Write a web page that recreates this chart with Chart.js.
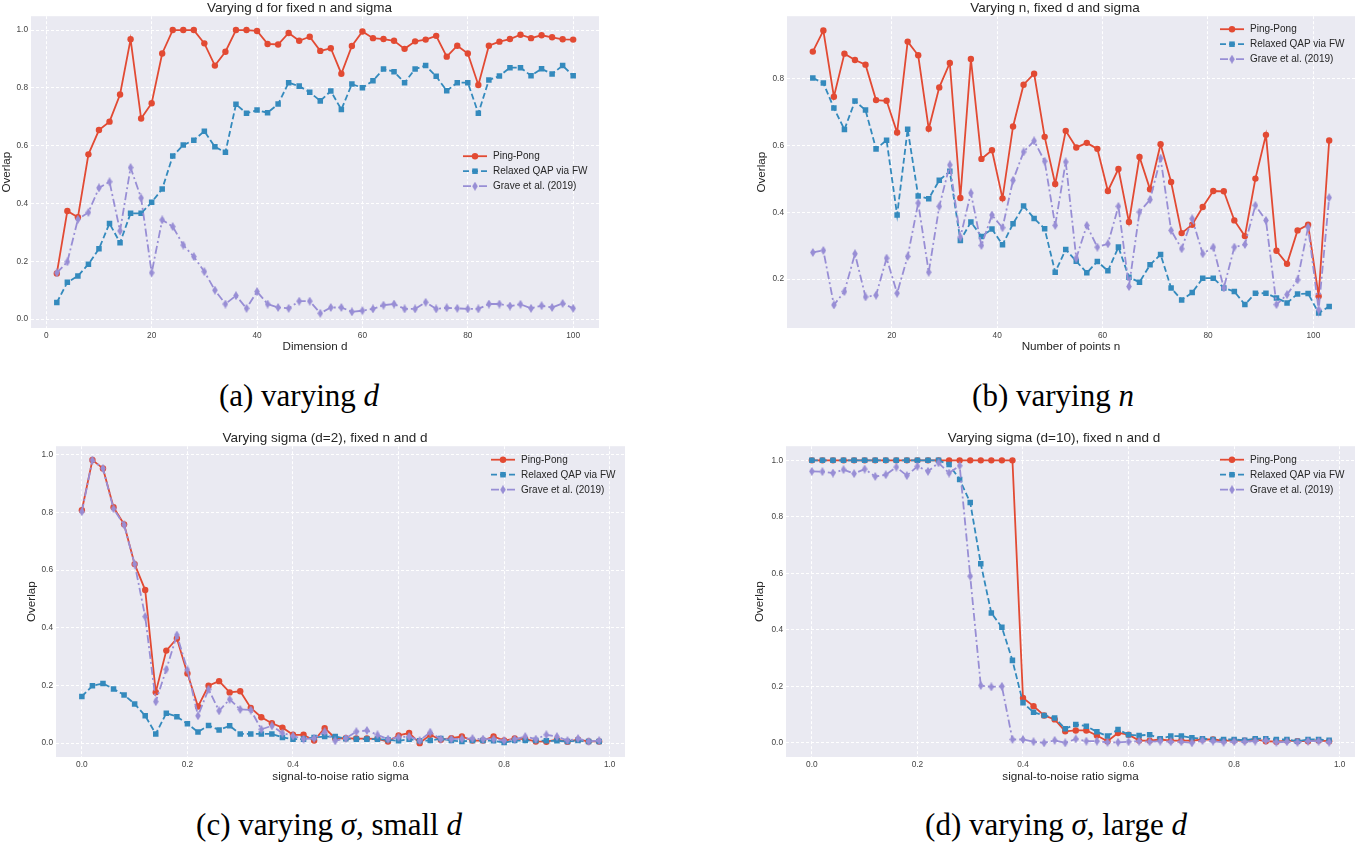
<!DOCTYPE html>
<html>
<head>
<meta charset="utf-8">
<script src="https://cdn.jsdelivr.net/npm/chart.js@4.4.1/dist/chart.umd.min.js"></script>
<style>
  html, body { margin: 0; padding: 0; background: #fff; overflow: hidden; width: 1359px; height: 843px; }
  canvas { position: absolute; }
  .cap { position: absolute; font-family: "Liberation Serif", "Times New Roman", serif; font-size: 31px;
         line-height: 1; color: #000; white-space: nowrap; transform: translate(-50%, -50%); }
</style>
</head>
<body>
<canvas id="panelA" width="630" height="354" style="left:0px;top:0px"></canvas>
<canvas id="panelB" width="632" height="354" style="left:755px;top:0px"></canvas>
<canvas id="panelC" width="631" height="354" style="left:25px;top:430px"></canvas>
<canvas id="panelD" width="635" height="354" style="left:753px;top:430px"></canvas>

<div class="cap" style="left:299px;top:395px">(a) varying <i>d</i></div>
<div class="cap" style="left:1053px;top:395px">(b) varying <i>n</i></div>
<div class="cap" style="left:329px;top:824px">(c) varying <i>σ</i>, small <i>d</i></div>
<div class="cap" style="left:1056px;top:824px">(d) varying <i>σ</i>, large <i>d</i></div>

<script>
// ---- data ----
const methodNames = ['Ping-Pong', 'Relaxed QAP via FW', 'Grave et al. (2019)'];

// (a) varying dimension d
const dimD = [2, 4, 6, 8, 10, 12, 14, 16, 18, 20, 22, 24, 26, 28, 30, 32, 34, 36, 38, 40,
  42, 44, 46, 48, 50, 52, 54, 56, 58, 60, 62, 64, 66, 68, 70, 72, 74, 76, 78, 80,
  82, 84, 86, 88, 90, 92, 94, 96, 98, 100];
const pingA = [0.158, 0.374, 0.352, 0.57, 0.654, 0.683, 0.777, 0.968, 0.694, 0.747,
  0.919, 1.0, 1.0, 1.0, 0.954, 0.877, 0.925, 1.0, 1.0, 0.997,
  0.952, 0.95, 0.99, 0.963, 0.977, 0.928, 0.937, 0.849, 0.945, 0.995,
  0.972, 0.969, 0.963, 0.935, 0.961, 0.967, 0.98, 0.908, 0.946, 0.919,
  0.81, 0.946, 0.96, 0.969, 0.984, 0.972, 0.982, 0.975, 0.968, 0.967];
const qapA = [0.057, 0.127, 0.149, 0.19, 0.243, 0.331, 0.264, 0.366, 0.366, 0.404,
  0.45, 0.564, 0.602, 0.619, 0.65, 0.596, 0.577, 0.743, 0.712, 0.723,
  0.714, 0.744, 0.818, 0.806, 0.785, 0.755, 0.789, 0.725, 0.813, 0.80,
  0.825, 0.865, 0.856, 0.818, 0.865, 0.877, 0.84, 0.79, 0.818, 0.818,
  0.712, 0.827, 0.841, 0.87, 0.87, 0.842, 0.866, 0.848, 0.877, 0.842];
const graveA = [0.16, 0.198, 0.345, 0.369, 0.454, 0.475, 0.305, 0.524, 0.419, 0.16,
  0.343, 0.32, 0.256, 0.216, 0.164, 0.10, 0.052, 0.081, 0.037, 0.095,
  0.052, 0.04, 0.037, 0.062, 0.062, 0.02, 0.04, 0.04, 0.025, 0.029,
  0.035, 0.048, 0.052, 0.035, 0.035, 0.058, 0.035, 0.039, 0.037, 0.035,
  0.035, 0.052, 0.052, 0.045, 0.051, 0.037, 0.046, 0.04, 0.054, 0.037];

// (b) varying number of points n
const pointsN = [5, 7, 9, 11, 13, 15, 17, 19, 21, 23, 25, 27, 29, 31, 33, 35, 37, 39, 41, 43,
  45, 47, 49, 51, 53, 55, 57, 59, 61, 63, 65, 67, 69, 71, 73, 75, 77, 79, 81, 83,
  85, 87, 89, 91, 93, 95, 97, 99, 101, 103];
const pingB = [0.881, 0.944, 0.746, 0.875, 0.856, 0.842, 0.736, 0.734, 0.639, 0.911,
  0.87, 0.65, 0.774, 0.847, 0.443, 0.859, 0.56, 0.586, 0.442, 0.657,
  0.782, 0.815, 0.626, 0.485, 0.644, 0.594, 0.608, 0.59, 0.464, 0.53,
  0.371, 0.566, 0.469, 0.604, 0.491, 0.338, 0.363, 0.416, 0.464, 0.463,
  0.376, 0.329, 0.501, 0.632, 0.285, 0.246, 0.346, 0.363, 0.149, 0.615];
const qapB = [0.802, 0.787, 0.712, 0.648, 0.733, 0.706, 0.59, 0.616, 0.392, 0.649,
  0.449, 0.441, 0.496, 0.523, 0.316, 0.371, 0.328, 0.35, 0.303, 0.366,
  0.419, 0.382, 0.351, 0.221, 0.289, 0.254, 0.219, 0.253, 0.225, 0.296,
  0.206, 0.191, 0.243, 0.274, 0.174, 0.138, 0.16, 0.203, 0.203, 0.174,
  0.163, 0.124, 0.158, 0.158, 0.144, 0.129, 0.156, 0.157, 0.099, 0.118];
const graveB = [0.28, 0.286, 0.123, 0.163, 0.276, 0.147, 0.152, 0.263, 0.158, 0.268,
  0.428, 0.221, 0.418, 0.542, 0.326, 0.458, 0.301, 0.392, 0.354, 0.496,
  0.581, 0.614, 0.553, 0.361, 0.551, 0.263, 0.361, 0.296, 0.306, 0.418,
  0.178, 0.401, 0.438, 0.562, 0.346, 0.291, 0.381, 0.276, 0.296, 0.174,
  0.296, 0.304, 0.421, 0.376, 0.124, 0.154, 0.198, 0.356, 0.109, 0.444];

// (c), (d) varying signal-to-noise ratio sigma
const sigmaS = [0.0, 0.02, 0.04, 0.06, 0.08, 0.1, 0.12, 0.14, 0.16, 0.18,
  0.2, 0.22, 0.24, 0.26, 0.28, 0.3, 0.32, 0.34, 0.36, 0.38,
  0.4, 0.42, 0.44, 0.46, 0.48, 0.5, 0.52, 0.54, 0.56, 0.58,
  0.6, 0.62, 0.64, 0.66, 0.68, 0.7, 0.72, 0.74, 0.76, 0.78,
  0.8, 0.82, 0.84, 0.86, 0.88, 0.9, 0.92, 0.94, 0.96, 0.98];
const pingC = [0.808, 0.982, 0.953, 0.818, 0.759, 0.621, 0.531, 0.177, 0.321, 0.363,
  0.242, 0.127, 0.199, 0.215, 0.176, 0.18, 0.122, 0.09, 0.069, 0.054,
  0.029, 0.029, 0.009, 0.052, 0.017, 0.017, 0.016, 0.016, 0.015, 0.006,
  0.027, 0.035, 0.0, 0.029, 0.012, 0.017, 0.023, 0.009, 0.009, 0.023,
  0.009, 0.016, 0.014, 0.006, 0.005, 0.012, 0.005, 0.012, 0.006, 0.006];
const qapC = [0.162, 0.199, 0.207, 0.188, 0.167, 0.136, 0.095, 0.032, 0.104, 0.092,
  0.067, 0.039, 0.061, 0.046, 0.06, 0.032, 0.032, 0.032, 0.032, 0.02,
  0.014, 0.014, 0.02, 0.023, 0.023, 0.015, 0.014, 0.014, 0.014, 0.012,
  0.008, 0.014, 0.008, 0.009, 0.016, 0.009, 0.006, 0.009, 0.009, 0.008,
  0.002, 0.009, 0.009, 0.009, 0.008, 0.008, 0.006, 0.009, 0.006, 0.006];
const graveC = [0.803, 0.982, 0.953, 0.813, 0.757, 0.621, 0.439, 0.144, 0.256, 0.375,
  0.254, 0.095, 0.187, 0.112, 0.152, 0.117, 0.115, 0.048, 0.06, 0.035,
  0.025, 0.014, 0.017, 0.04, 0.008, 0.017, 0.04, 0.044, 0.029, 0.014,
  0.021, 0.023, 0.009, 0.038, 0.014, 0.014, 0.015, 0.016, 0.014, 0.014,
  0.009, 0.014, 0.023, 0.014, 0.029, 0.023, 0.009, 0.016, 0.006, 0.009];
const pingD = [1.0, 1.0, 1.0, 1.0, 1.0, 1.0, 1.0, 1.0, 1.0, 1.0,
  1.0, 1.0, 1.0, 1.0, 1.0, 1.0, 1.0, 1.0, 1.0, 1.0,
  0.159, 0.13, 0.097, 0.083, 0.041, 0.044, 0.044, 0.026, 0.006, 0.035,
  0.029, 0.008, 0.008, 0.012, 0.008, 0.008, 0.008, 0.012, 0.012, 0.008,
  0.008, 0.008, 0.012, 0.006, 0.004, 0.008, 0.006, 0.006, 0.008, 0.006];
const qapD = [1.0, 1.0, 1.0, 1.0, 1.0, 1.0, 1.0, 1.0, 1.0, 1.0,
  1.0, 1.0, 1.0, 0.985, 0.932, 0.851, 0.634, 0.46, 0.409, 0.292,
  0.142, 0.108, 0.097, 0.088, 0.05, 0.065, 0.059, 0.039, 0.024, 0.047,
  0.029, 0.026, 0.029, 0.015, 0.024, 0.024, 0.018, 0.015, 0.012, 0.012,
  0.012, 0.009, 0.015, 0.015, 0.012, 0.012, 0.006, 0.012, 0.012, 0.009];
const graveD = [0.961, 0.96, 0.955, 0.967, 0.953, 0.969, 0.943, 0.949, 0.976, 0.946,
  0.979, 0.961, 0.991, 0.955, 0.981, 0.59, 0.203, 0.198, 0.2, 0.012,
  0.012, 0.004, 0.0, 0.009, 0.0, 0.014, 0.006, 0.006, 0.002, 0.002,
  0.004, 0.006, 0.004, 0.006, 0.004, 0.004, 0.0, 0.008, 0.006, 0.002,
  0.004, 0.004, 0.006, 0.008, 0.002, 0.004, 0.002, 0.006, 0.006, 0.002];

// tick labels
const ticksDimX = [0, 20, 40, 60, 80, 100];
const ticksNX = [20, 40, 60, 80, 100];
const ticksSigmaX = [0.0, 0.2, 0.4, 0.6, 0.8, 1.0];
const ticksOverlap = [0.0, 0.2, 0.4, 0.6, 0.8, 1.0];
const ticksOverlapB = [0.2, 0.4, 0.6, 0.8];

// ---- styling ----
const SANS = '"Liberation Sans", Arial, Helvetica, sans-serif';
const INK = '#262626';
const COLORS = ['#E24A33', '#348ABD', '#988ED5'];

function thinDiamond() {
  const c = document.createElement('canvas');
  c.width = 6; c.height = 9;
  const g = c.getContext('2d');
  g.fillStyle = COLORS[2];
  g.beginPath();
  g.moveTo(3, 0); g.lineTo(5.8, 4.5); g.lineTo(3, 9); g.lineTo(0.2, 4.5);
  g.closePath(); g.fill();
  return c;
}
const diamondImg = thinDiamond();

function drawMarker(ctx, ds, x, y) {
  ctx.fillStyle = ds.backgroundColor;
  if (ds.pointStyle === 'circle') {
    ctx.beginPath(); ctx.arc(x, y, ds.pointRadius, 0, Math.PI * 2); ctx.fill();
  } else if (ds.pointStyle === 'rect') {
    const s = ds.pointRadius * Math.SQRT1_2;
    ctx.fillRect(x - s, y - s, 2 * s, 2 * s);
  } else {
    const img = ds.pointStyle;
    ctx.drawImage(img, x - img.width / 2, y - img.height / 2);
  }
}

// grey plot area like seaborn darkgrid
const plotBackground = {
  id: 'plotBackground',
  beforeDraw(chart) {
    const {ctx, chartArea: a} = chart;
    ctx.save();
    ctx.fillStyle = '#EAEAF2';
    ctx.fillRect(a.left, a.top, a.right - a.left, a.bottom - a.top);
    ctx.restore();
  }
};

// legend drawn inside the axes, matplotlib style (line + marker)
const insetLegend = {
  id: 'insetLegend',
  afterDraw(chart, args, opts) {
    const {ctx, chartArea} = chart;
    const x0 = chartArea.right - opts.right;
    const y0 = chartArea.top + opts.top;
    chart.data.datasets.forEach(function(ds, i) {
      const y = y0 + i * 15;
      ctx.save();
      ctx.strokeStyle = ds.borderColor;
      ctx.lineWidth = ds.borderWidth;
      ctx.setLineDash(ds.borderDash || []);
      ctx.beginPath(); ctx.moveTo(x0, y); ctx.lineTo(x0 + 24, y); ctx.stroke();
      ctx.setLineDash([]);
      drawMarker(ctx, ds, x0 + 12, y);
      ctx.fillStyle = INK;
      ctx.font = '10px ' + SANS;
      ctx.textBaseline = 'middle';
      ctx.textAlign = 'left';
      ctx.fillText(ds.label, x0 + 30, y + 0.5);
      ctx.restore();
    });
  }
};

function buildDatasets(xs, ping, qap, grave) {
  const pts = v => xs.map((x, i) => ({x: x, y: v[i]}));
  return [
    {label: methodNames[0], data: pts(ping), borderColor: COLORS[0], backgroundColor: COLORS[0],
     borderWidth: 1.8, pointStyle: 'circle', pointRadius: 3.2, pointBorderWidth: 0, order: 3},
    {label: methodNames[1], data: pts(qap), borderColor: COLORS[1], backgroundColor: COLORS[1],
     borderWidth: 1.8, borderDash: [6, 3], pointStyle: 'rect', pointRadius: 3.9, pointBorderWidth: 0, order: 2},
    {label: methodNames[2], data: pts(grave), borderColor: COLORS[2], backgroundColor: COLORS[2],
     borderWidth: 1.8, borderDash: [8, 3, 2, 3], pointStyle: diamondImg, pointRadius: 4, pointBorderWidth: 0, order: 1}
  ];
}

function axis(range, ticks, fmt, title, fitFn) {
  return {
    type: 'linear',
    min: range[0], max: range[1],
    afterBuildTicks: s => { s.ticks = ticks.map(v => ({value: v})); },
    afterFit: fitFn,
    ticks: {
      autoSkip: false, maxRotation: 0, minRotation: 0,
      color: '#444', font: {family: SANS, size: 8.3}, padding: 3,
      callback: v => fmt(v)
    },
    grid: {color: '#ffffff', lineWidth: 1, drawTicks: false},
    border: {display: false, dash: [3, 2]},
    title: title ? {display: true, text: title, color: INK, font: {family: SANS, size: 11.7},
                    padding: {top: 0, bottom: 0}} : {display: false}
  };
}

const intFmt = v => String(v);
const decFmt = v => v.toFixed(1);

const panels = [
  {id: 'panelA', xs: dimD, ys: [pingA, qapA, graveA], title: 'Varying d for fixed n and sigma',
   xLabel: 'Dimension d', xRange: [-2.9, 104.9], yRange: [-0.031, 1.048],
   xTicks: ticksDimX, yTicks: ticksOverlap, xFmt: intFmt,
   yW: 31, xH: 26, padR: 31, legend: {right: 136, top: 140}},
  {id: 'panelB', xs: pointsN, ys: [pingB, qapB, graveB], title: 'Varying n, fixed d and sigma',
   xLabel: 'Number of points n', xRange: [0.1, 107.9], yRange: [0.054, 0.987],
   xTicks: ticksNX, yTicks: ticksOverlapB, xFmt: intFmt,
   yW: 32, xH: 26, padR: 32, legend: {right: 135, top: 13}},
  {id: 'panelC', xs: sigmaS, ys: [pingC, qapC, graveC], title: 'Varying sigma (d=2), fixed n and d',
   xLabel: 'signal-to-noise ratio sigma', xRange: [-0.049, 1.029], yRange: [-0.048, 1.03],
   xTicks: ticksSigmaX, yTicks: ticksOverlap, xFmt: decFmt,
   yW: 31, xH: 27, padR: 31, legend: {right: 134, top: 13.5}},
  {id: 'panelD', xs: sigmaS, ys: [pingD, qapD, graveD], title: 'Varying sigma (d=10), fixed n and d',
   xLabel: 'signal-to-noise ratio sigma', xRange: [-0.049, 1.029], yRange: [-0.05, 1.05],
   xTicks: ticksSigmaX, yTicks: ticksOverlap, xFmt: decFmt,
   yW: 33, xH: 27, padR: 33, legend: {right: 135, top: 13.5}}
];

panels.forEach(function(p) {
  const ctx = document.getElementById(p.id).getContext('2d');
  new Chart(ctx, {
    type: 'line',
    data: {datasets: buildDatasets(p.xs, p.ys[0], p.ys[1], p.ys[2])},
    options: {
      responsive: false,
      animation: false,
      layout: {padding: {left: 0, right: p.padR, top: 0, bottom: 0}},
      elements: {line: {tension: 0, fill: false}},
      scales: {
        x: axis(p.xRange, p.xTicks, p.xFmt, p.xLabel,
                s => { s.height = p.xH; s.paddingLeft = 0; s.paddingRight = 0; }),
        y: axis(p.yRange, p.yTicks, decFmt, 'Overlap',
                s => { s.width = p.yW; s.paddingTop = 0; s.paddingBottom = 0; })
      },
      plugins: {
        legend: {display: false},
        tooltip: {enabled: false},
        title: {display: true, text: p.title, color: INK,
                font: {family: SANS, size: 13.5, weight: 'normal'}, padding: {top: 0, bottom: 0}},
        insetLegend: p.legend
      }
    },
    plugins: [plotBackground, insetLegend]
  });
});
</script>
</body>
</html>
